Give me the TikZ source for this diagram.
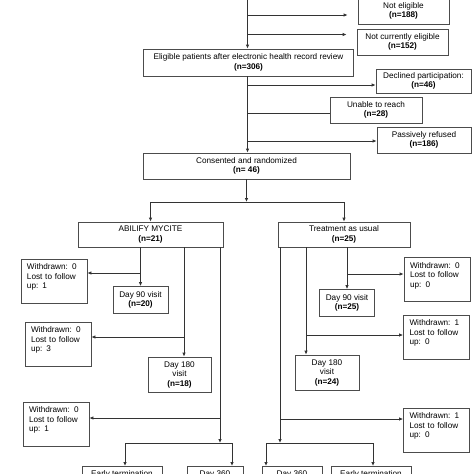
\documentclass[tikz,border=0pt]{standalone}
\usepackage{fontspec}
\setmainfont{Liberation Sans}
\usetikzlibrary{arrows.meta}

\newcommand{\lostfollow}[2]{Withdrawn: #1\\Lost to follow\\up: #2\\\mbox{}}

\begin{document}
\begin{tikzpicture}[x=1pt,y=-1pt,
  font=\fontsize{8.2}{9.5}\selectfont,
  box/.style={draw=black!70,line width=0.8pt,align=center,inner sep=1pt},
  lostbox/.style={draw=black!70,line width=0.8pt,align=left,text width=54pt,
    inner xsep=6pt,inner ysep=0pt,minimum height=44pt},
  endbox/.style={draw=black!70,line width=0.8pt,align=center,anchor=north,
    inner xsep=1pt,inner ysep=4pt},
  arr/.style={draw=black!80,line width=0.8pt,-{Latex[length=4pt,width=3.5pt]}},
  conn/.style={draw=black!80,line width=0.8pt}]
  \useasboundingbox (0,0) rectangle (474,474);
  \clip (0,0) rectangle (474,474);
  \fill[white] (0,0) rectangle (474,474);

  % screening
  \node[box,minimum width=91pt,minimum height=26pt] (notelig) at (403.5,11) {Not eligible\\\textbf{(n=188)}};
  \node[box,minimum width=91pt,minimum height=26pt] (notcur) at (402.5,42) {Not currently eligible\\\textbf{(n=152)}};
  \node[box,minimum width=210pt,minimum height=27pt] (elig) at (248.5,62.5) {Eligible patients after electronic health record review\\\textbf{(n=306)}};
  \node[box,minimum width=95pt,minimum height=24pt] (declined) at (423.5,81) {Declined participation:\\\textbf{(n=46)}};
  \node[box,minimum width=92pt,minimum height=26pt] (unable) at (376,110) {Unable to reach\\\textbf{(n=28)}};
  \node[box,minimum width=94pt,minimum height=26pt] (passive) at (424,140) {Passively refused\\\textbf{(n=186)}};
  \node[box,minimum width=207pt,minimum height=26pt] (consent) at (246.5,166) {Consented and randomized\\\textbf{(n= 46)}};

  % arms
  \node[box,minimum width=145pt,minimum height=25pt] (abilify) at (150.5,234.5) {ABILIFY MYCITE\\\textbf{(n=21)}};
  \node[box,minimum width=132pt,minimum height=25pt] (tau) at (344,234.5) {Treatment as usual\\\textbf{(n=25)}};

  \node[lostbox] (wL1) at (54,281) {\lostfollow{0}{1}};
  \node[box,minimum width=55pt,minimum height=27pt] (d90L) at (140.5,300) {Day 90 visit\\\textbf{(n=20)}};
  \node[lostbox] (wL2) at (58,344) {\lostfollow{0}{3}};
  \node[box,minimum width=63pt,minimum height=35pt] (d180L) at (179.5,374.5) {Day 180\\visit\\\textbf{(n=18)}};
  \node[lostbox] (wL3) at (56,424) {\lostfollow{0}{1}};

  \node[lostbox] (wR1) at (437,279.5) {\lostfollow{0}{0}};
  \node[box,minimum width=55pt,minimum height=27pt] (d90R) at (347,303) {Day 90 visit\\\textbf{(n=25)}};
  \node[lostbox] (wR2) at (436.5,337) {\lostfollow{1}{0}};
  \node[box,minimum width=64pt,minimum height=35pt] (d180R) at (327,372.5) {Day 180\\visit\\\textbf{(n=24)}};
  \node[lostbox] (wR3) at (436.5,430) {\lostfollow{1}{0}};

  \node[endbox,minimum width=80pt] (eL) at (122,466) {Early termination};
  \node[endbox,minimum width=56pt] (d360L) at (215,466) {Day 360};
  \node[endbox,minimum width=60pt] (d360R) at (292,466) {Day 360};
  \node[endbox,minimum width=80pt] (eR) at (371,466) {Early termination};

  % trunk
  \coordinate (top) at (247.5,-5);
  \coordinate (b1) at (247.5,15);
  \coordinate (b2) at (247.5,34.5);
  \coordinate (b3) at (247.5,85);
  \coordinate (b4) at (247.5,113);
  \coordinate (b5) at (247.5,141);
  \draw[arr] (top) -- (top |- elig.north);
  \draw[arr,shorten >=10pt] (b1) -- (b1 -| notelig.west);
  \draw[arr,shorten >=10pt] (b2) -- (b2 -| notcur.west);
  \draw[arr] (top |- elig.south) -- (top |- consent.north);
  \draw[arr] (b3) -- (b3 -| declined.west);
  \draw[conn] (b4) -- (b4 -| unable.west);
  \draw[arr] (b5) -- (b5 -| passive.west);

  \coordinate (split) at (246.5,202);
  \draw[arr] (consent.south) -- (split);
  \draw[arr] (split) -| (abilify.north);
  \draw[arr] (split) -| (tau.north);

  % left arm
  \coordinate (l1) at (140.5,273);
  \coordinate (l2) at (184,337);
  \coordinate (l3) at (220,418);
  \coordinate (lsplit) at (220,443);
  \draw[arr] (l1 |- abilify.south) -- (d90L.north);
  \draw[arr] (l1) -- (l1 -| wL1.east);
  \draw[arr] (l2 |- abilify.south) -- (l2 |- d180L.north);
  \draw[arr] (l2) -- (l2 -| wL2.east);
  \draw[arr] (l3 |- abilify.south) -- (lsplit);
  \draw[arr] (l3) -- (l3 -| wL3.east);
  \draw[arr] (lsplit) -| ([xshift=3pt]eL.north);
  \draw[arr] (lsplit) -| ([xshift=17pt]d360L.north);

  % right arm
  \coordinate (r1) at (347,274);
  \coordinate (r2) at (306,335);
  \coordinate (r3) at (280,419);
  \coordinate (rsplit) at (280,443);
  \draw[arr] (r1 |- tau.south) -- (d90R.north);
  \draw[arr] (r1) -- (r1 -| wR1.west);
  \draw[arr] (r2 |- tau.south) -- (r2 |- d180R.north);
  \draw[arr] (r2) -- (r2 -| wR2.west);
  \draw[arr] (r3 |- tau.south) -- (rsplit);
  \draw[arr] (r3) -- (r3 -| wR3.west);
  \draw[arr] (rsplit) -| ([xshift=-26pt]d360R.north);
  \draw[arr] (rsplit) -| ([xshift=2pt]eR.north);
\end{tikzpicture}
\end{document}
